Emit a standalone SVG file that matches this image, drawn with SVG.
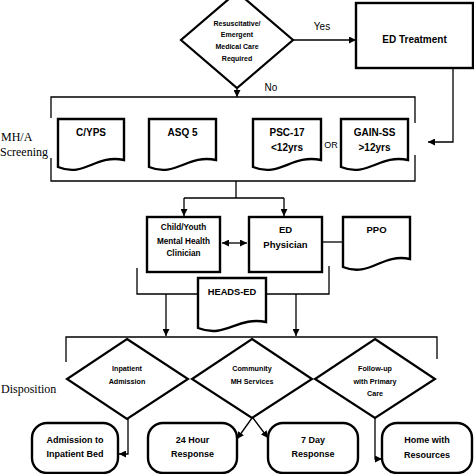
<svg xmlns="http://www.w3.org/2000/svg" width="474" height="474" viewBox="0 0 474 474">
<style>
.bg{fill:#fff}
.shape{fill:#fff;stroke:#000;stroke-width:2.4}
.dia{fill:#fff;stroke:#000;stroke-width:2.2}
.ln{fill:none;stroke:#000;stroke-width:1.3}
.t{font-family:"Liberation Sans",Arial,sans-serif;font-weight:bold;text-anchor:middle;fill:#000}
.s{font-family:"Liberation Serif","Times New Roman",serif;font-size:12px;fill:#000}
</style>
<defs>
<marker id="ah" viewBox="0 0 10 10" refX="10" refY="5" markerWidth="7" markerHeight="7" markerUnits="userSpaceOnUse" orient="auto-start-reverse">
<path d="M0,0 L10,5 L0,10 Z" fill="#000"/>
</marker>
</defs>
<rect class="bg" x="0" y="0" width="474" height="474"/>

<g id="connectors">
<path class="ln" d="M293,40 H356" marker-end="url(#ah)"/>
<path class="ln" d="M237,88 V97" marker-end="url(#ah)"/>
<path class="ln" d="M453,68 V142 H428" marker-end="url(#ah)"/>
<path class="ln" d="M51,118 V97 H415 V123 M51,158 V181 H415 V155"/>
<path class="ln" d="M236,181 V198 M184,198 H284"/>
<path class="ln" d="M184,198 V216" marker-end="url(#ah)"/>
<path class="ln" d="M284,198 V216" marker-end="url(#ah)"/>
<path class="ln" d="M222,243 H247" marker-start="url(#ah)" marker-end="url(#ah)"/>
<path class="ln" d="M322,242 H343"/>
<path class="ln" d="M137,268 V294 H198 M266,294 H329 V266"/>
<path class="ln" d="M166,294 V336" marker-end="url(#ah)"/>
<path class="ln" d="M296,294 V336" marker-end="url(#ah)"/>
<path class="ln" d="M66,362 V337 H437 V359"/>
<path class="ln" d="M128,419 V454 H119" marker-end="url(#ah)"/>
<path class="ln" d="M252,418 L237,439" marker-end="url(#ah)"/>
<path class="ln" d="M253,418 L268,438" marker-end="url(#ah)"/>
<path class="ln" d="M375,418 V459 H382" marker-end="url(#ah)"/>
</g>

<text class="t" x="322" y="30" style="font-weight:normal;font-size:10px">Yes</text>
<text class="t" x="271" y="91" style="font-weight:normal;font-size:10px">No</text>
<text class="s" x="1" y="141">MH/A</text>
<text class="s" x="0" y="156">Screening</text>
<text class="s" x="1" y="393">Disposition</text>
<text class="t" x="331" y="148" style="font-weight:normal;font-size:9px">OR</text>

<g id="n-resus">
<polygon class="dia" points="237,-8 293,40 237,88 181,40"/>
<text class="t" font-size="7"><tspan x="237" y="25.5">Resuscitative/</tspan><tspan x="237" y="37">Emergent</tspan><tspan x="237" y="48.5">Medical Care</tspan><tspan x="237" y="60.5">Required</tspan></text>
</g>

<g id="n-edtreat">
<rect class="shape" x="356" y="3" width="117" height="65"/>
<text class="t" x="414.5" y="43" font-size="10">ED Treatment</text>
</g>

<g id="n-cyps">
<path class="shape" d="M58,119 H124 V160 C95,154 85,178 58,167 Z"/>
<text class="t" x="91" y="136" font-size="10">C/YPS</text>
</g>
<g id="n-asq">
<path class="shape" d="M149,119 H216 V160 C187,154 176,178 149,167 Z"/>
<text class="t" x="182.5" y="136" font-size="10">ASQ 5</text>
</g>
<g id="n-psc">
<path class="shape" d="M253,119 H321 V160 C291,154 280,178 253,167 Z"/>
<text class="t" font-size="10"><tspan x="287" y="135.5">PSC-17</tspan><tspan x="287" y="150.5">&lt;12yrs</tspan></text>
</g>
<g id="n-gain">
<path class="shape" d="M341,119 H408 V160 C379,154 368,178 341,167 Z"/>
<text class="t" font-size="10"><tspan x="374.5" y="135.5">GAIN-SS</tspan><tspan x="374.5" y="150.5">&gt;12yrs</tspan></text>
</g>

<g id="n-clinician">
<rect class="shape" x="147" y="217" width="73" height="55"/>
<text class="t" font-size="8.2"><tspan x="183.5" y="230">Child/Youth</tspan><tspan x="183.5" y="244">Mental Health</tspan><tspan x="183.5" y="256">Clinician</tspan></text>
</g>
<g id="n-physician">
<rect class="shape" x="249" y="217" width="73" height="55"/>
<text class="t" font-size="9.5"><tspan x="285.5" y="232.5">ED</tspan><tspan x="285.5" y="247.5">Physician</tspan></text>
</g>
<g id="n-ppo">
<path class="shape" d="M343,217 H410 V259 C381,253 370,278 343,267 Z"/>
<text class="t" x="376.5" y="232.5" font-size="9.5">PPO</text>
</g>
<g id="n-heads">
<path class="shape" d="M198,278 H266 V322 C237,316 226,339 198,328 Z"/>
<text class="t" x="232" y="294.5" font-size="9.3">HEADS-ED</text>
</g>

<g id="n-inpatient">
<polygon class="dia" points="127,339 188,379 127,419 67,379"/>
<text class="t" font-size="7.2"><tspan x="127" y="370.5">Inpatient</tspan><tspan x="127" y="383.5">Admission</tspan></text>
</g>
<g id="n-community">
<polygon class="dia" points="252,339 312,379 252,418 192,379"/>
<text class="t" font-size="7.2"><tspan x="252" y="370.5">Community</tspan><tspan x="252" y="383.5">MH Services</tspan></text>
</g>
<g id="n-followup">
<polygon class="dia" points="375,339 435,379 375,418 315,379"/>
<text class="t" font-size="7.2"><tspan x="375" y="370.5">Follow-up</tspan><tspan x="375" y="383.5">with Primary</tspan><tspan x="375" y="396">Care</tspan></text>
</g>

<g id="n-admission">
<rect class="shape" x="32" y="423" width="86" height="50" rx="15"/>
<text class="t" font-size="9"><tspan x="75" y="443">Admission to</tspan><tspan x="75" y="457">Inpatient Bed</tspan></text>
</g>
<g id="n-24h">
<rect class="shape" x="148" y="423" width="89" height="50" rx="15"/>
<text class="t" font-size="9"><tspan x="192.5" y="443">24 Hour</tspan><tspan x="192.5" y="457">Response</tspan></text>
</g>
<g id="n-7d">
<rect class="shape" x="268" y="423" width="90" height="50" rx="15"/>
<text class="t" font-size="9"><tspan x="313" y="443">7 Day</tspan><tspan x="313" y="457">Response</tspan></text>
</g>
<g id="n-home">
<rect class="shape" x="382" y="423" width="90" height="50" rx="15"/>
<text class="t" font-size="9"><tspan x="427" y="443">Home with</tspan><tspan x="427" y="458">Resources</tspan></text>
</g>
</svg>
